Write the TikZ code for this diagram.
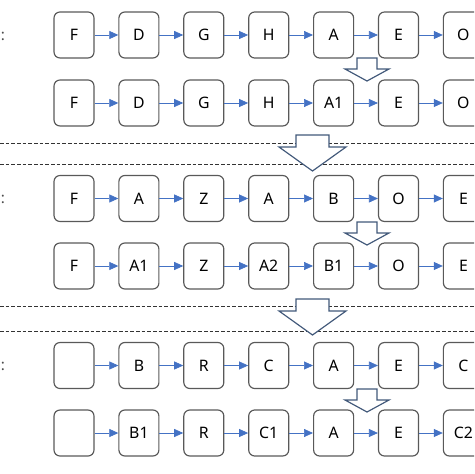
\documentclass[tikz,border=0pt]{standalone}
\usepackage{fontspec}
\setmainfont{Noto Sans}
\usepackage{tikz}
\usetikzlibrary{
	arrows.meta,									% 箭头样式
}
\definecolor{linkblue}{HTML}{4472C4}
\definecolor{hollowblue}{HTML}{42597A}

\begin{document}
\begin{tikzpicture}[x=0.3mm, y=-0.3mm,
		box/.style={draw=black!65, line width=1pt, rounded corners=1.8mm,
			minimum width=12mm, minimum height=13.8mm, inner sep=0pt,
			font=\fontsize{13.5}{15}\selectfont},
		link/.style={draw=linkblue, line width=0.6pt,
			-{Triangle[length=2.7mm, width=2.4mm]}},
		sep/.style={draw=black!80, line width=0.7pt, dash pattern=on 1.1mm off 0.6mm},
		hollow/.style={draw=hollowblue, fill=white, line width=1pt, line join=miter},
		colon/.style={font=\fontsize{13}{15}\selectfont, text=black!70, inner sep=0pt},
	]
	\clip (0,0) rectangle (474,474);
	\useasboundingbox (0,0) rectangle (474,474);
	% 分隔虚线
	\foreach \yy in {143,164,306,331}
		\draw[sep] (0,\yy) -- (474,\yy);
	% 截断的行标签
	\foreach \yy [count=\k] in {36,199,366}
		\node[colon] (lab\k) at (3,\yy) {:};
	% 各行节点
	\foreach \row/\yy/\labs in {1/35/{F,D,G,H,A,E,O},2/103/{F,D,G,H,A1,E,O},
			3/198.5/{F,A,Z,A,B,O,E},4/266/{F,A1,Z,A2,B1,O,E},
			5/365.5/{{},B,R,C,A,E,C},6/433/{{},B1,R,C1,A,E,C2}}
		\foreach \lab [count=\c] in \labs {
			\pgfmathsetmacro\xx{74+(\c-1)*64.9}
			\node[box] (n\row-\c) at (\xx,\yy) {\lab};
		}
	% 连接箭头
	\foreach \row in {1,...,6}
		\foreach \c [remember=\c as \p (initially 1)] in {2,...,7}
			\draw[link] (n\row-\p) -- (n\row-\c);
	% 行间的小空心箭头
	\foreach \top in {58,222,389}
		\draw[hollow] (357,\top) -- (377,\top) -- (377,\top+11) -- (389,\top+11)
			-- (367,\top+23) -- (345,\top+11) -- (357,\top+11) -- cycle;
	% 段间的大空心箭头
	\foreach \top in {135,299}
		\draw[hollow] (296,\top) -- (329,\top) -- (329,\top+12) -- (346,\top+12)
			-- (312.5,\top+36) -- (279,\top+12) -- (296,\top+12) -- cycle;
\end{tikzpicture}
\end{document}
